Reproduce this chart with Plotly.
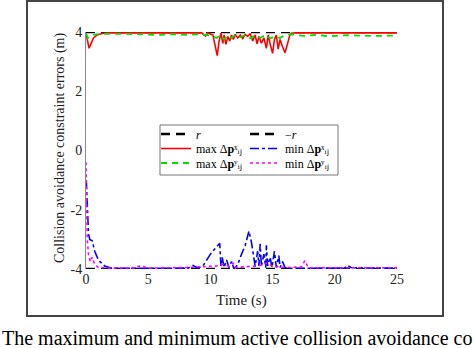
import plotly.graph_objects as go

# ---------------- data ----------------
t_ref = [0, 25]
r_pos = [4, 4]
r_neg = [-4, -4]

t_max_x = [0, 0.1, 0.25, 0.4, 0.6, 0.9, 1.3, 1.8, 3.0, 5.0, 7.0, 8.5, 9.3, 9.6, 9.8, 10.2, 10.4, 10.55, 10.7,
           10.85, 11.0, 11.1, 11.25, 11.4, 11.55, 11.7, 11.85, 12.0, 12.2, 12.4, 12.6, 12.8, 13.0, 13.2,
           13.4, 13.6, 13.75, 13.9, 14.1, 14.3, 14.5, 14.65, 14.8, 15.0, 15.15, 15.3, 15.45, 15.6, 15.8,
           16.0, 16.2, 16.35, 16.5, 17.0, 19.0, 21.0, 23.0, 25.0]
v_max_x = [3.95, 3.7, 3.45, 3.6, 3.8, 3.9, 3.95, 3.98, 3.98, 3.97, 3.98, 3.96, 3.97, 3.86, 3.97, 3.9, 3.5, 3.2, 3.7,
           3.96, 3.62, 3.9, 3.58, 3.85, 3.7, 3.9, 3.75, 3.92, 3.8, 3.9, 3.78, 3.92, 3.85, 3.95,
           3.7, 3.9, 3.6, 3.85, 3.62, 3.8, 3.45, 3.9, 3.6, 3.28, 3.75, 3.9, 3.42, 3.75, 3.5,
           3.3, 3.6, 3.85, 3.96, 3.98, 3.97, 3.98, 3.97, 3.97]

t_max_y = [0, 0.15, 0.3, 0.6, 1.0, 2.0, 4.0, 6.0, 7.0, 8.0, 9.0, 10.0, 10.5, 10.8, 11.1, 11.4, 11.7, 12.0,
           12.4, 12.8, 13.2, 13.6, 14.0, 14.4, 14.8, 15.2, 15.6, 16.0, 16.5, 17.5, 18.5, 19.5, 21.0, 23.0, 25.0]
v_max_y = [3.95, 3.8, 3.85, 3.9, 3.93, 3.94, 3.93, 3.9, 3.93, 3.9, 3.92, 3.88, 3.8, 3.9, 3.75, 3.88, 3.8, 3.9,
           3.82, 3.9, 3.78, 3.88, 3.8, 3.9, 3.78, 3.85, 3.8, 3.9, 3.92, 3.87, 3.9, 3.86, 3.89, 3.87, 3.88]

t_min_x = [0.02, 0.1, 0.2, 0.3, 0.5, 0.7, 1.0, 1.5, 2.0, 4.0, 6.0, 8.2, 8.6, 9.0, 9.4, 9.6, 10.0, 10.4, 10.75,
           10.85, 10.95, 11.1, 11.3, 11.5, 11.7, 11.9, 12.2, 12.5, 12.8, 13.1, 13.3, 13.6, 13.8, 13.9, 14.0,
           14.1, 14.3, 14.45, 14.5, 14.6, 14.8, 14.95, 15.15, 15.3, 15.5, 15.6, 15.8, 16.0, 16.5, 19.0, 20.8,
           21.0, 21.3, 23.0, 25.0]
v_min_x = [-1.0, -1.9, -2.8, -3.0, -3.05, -3.4, -3.7, -3.9, -3.97, -3.98, -3.97, -3.97, -3.88, -3.97, -3.9, -3.75,
           -3.5, -3.3, -3.13, -3.9, -3.6, -3.95, -3.7, -3.95, -3.75, -4.0, -3.85, -3.5, -3.2, -2.72, -3.1,
           -3.9, -3.4, -3.9, -3.15, -3.9, -3.5, -3.95, -3.2, -3.9, -3.6, -3.95, -3.4, -3.95, -3.55, -3.95,
           -3.75, -3.95, -3.98, -3.97, -3.97, -3.88, -3.95, -3.97, -3.97]

t_min_y = [0, 0.05, 0.1, 0.2, 0.35, 0.5, 0.7, 1.0, 2.0, 4.0, 4.3, 4.6, 5.0, 8.0, 9.5, 10.5, 11.0, 11.5, 11.8,
           12.0, 13.0, 13.8, 14.5, 15.0, 16.0, 17.3, 17.6, 17.8, 18.0, 21.0, 25.0]
v_min_y = [-0.4, -1.5, -3.0, -3.5, -3.75, -3.6, -3.85, -3.95, -3.97, -3.96, -3.9, -3.92, -3.97, -3.95, -3.93, -3.9,
           -3.85, -3.9, -3.8, -3.95, -3.92, -3.9, -3.8, -3.9, -3.95, -3.93, -3.72, -3.9, -3.96, -3.95, -3.96]

x_ticks = [0, 5, 10, 15, 20, 25]
y_ticks = [-4, -2, 0, 2, 4]
y_ticktext = ["-4", "-2", "0", "2", "4"]

# ---------------- layout geometry ----------------
W_FIG, H_FIG = 474, 348
L, R, T, B = 86, 77, 32, 79
PW = W_FIG - L - R
PH = H_FIG - T - B


def px(xp):
    return (xp - L) / PW


def py(yp):
    return (H_FIG - B - yp) / PH


FONT = "'Liberation Serif', 'Times New Roman', Times, serif"

fig = go.Figure()
fig.add_trace(go.Scatter(x=t_ref, y=r_pos, mode="lines", name="<i>r</i>", legend="legend",
                         line=dict(color="black", width=2.5, dash="9px,6px")))
fig.add_trace(go.Scatter(x=t_ref, y=r_neg, mode="lines", name="\u2212<i>r</i>", legend="legend2",
                         line=dict(color="black", width=2.5, dash="9px,6px")))
fig.add_trace(go.Scatter(x=t_max_x, y=v_max_x, mode="lines", legend="legend3",
                         name="max \u0394<b>p</b>\u02e3\u1d62\u2c7c",
                         line=dict(color="#ff0000", width=1.6)))
fig.add_trace(go.Scatter(x=t_min_x, y=v_min_x, mode="lines", legend="legend4",
                         name="min \u0394<b>p</b>\u02e3\u1d62\u2c7c",
                         line=dict(color="#0000ff", width=1.6, dash="dashdot")))
fig.add_trace(go.Scatter(x=t_max_y, y=v_max_y, mode="lines", legend="legend5",
                         name="max \u0394<b>p</b>\u02b8\u1d62\u2c7c",
                         line=dict(color="#00e000", width=1.8, dash="6px,5px")))
fig.add_trace(go.Scatter(x=t_min_y, y=v_min_y, mode="lines", legend="legend6",
                         name="min \u0394<b>p</b>\u02b8\u1d62\u2c7c",
                         line=dict(color="#ff00ff", width=1.6, dash="dot")))

legend_common = dict(font=dict(family=FONT, size=12, color="black"), bgcolor="rgba(0,0,0,0)",
                     borderwidth=0, xanchor="left", yanchor="middle", itemwidth=30,
                     tracegroupgap=0)

col_x = [156, 245]
row_y = [134, 148.5, 163]

fig.update_layout(
    width=W_FIG, height=H_FIG,
    margin=dict(l=L, r=R, t=T, b=B),
    paper_bgcolor="white", plot_bgcolor="white",
    font=dict(family=FONT, size=14, color="#222"),
    showlegend=True,
    legend=dict(x=px(col_x[0]), y=py(row_y[0]), **legend_common),
    legend2=dict(x=px(col_x[1]), y=py(row_y[0]), **legend_common),
    legend3=dict(x=px(col_x[0]), y=py(row_y[1]), **legend_common),
    legend4=dict(x=px(col_x[1]), y=py(row_y[1]), **legend_common),
    legend5=dict(x=px(col_x[0]), y=py(row_y[2]), **legend_common),
    legend6=dict(x=px(col_x[1]), y=py(row_y[2]), **legend_common),
    xaxis=dict(range=[0, 25], tickvals=x_ticks, showgrid=False, zeroline=False, showline=False,
               ticks="", tickfont=dict(family=FONT, size=14, color="#222")),
    yaxis=dict(range=[-4, 4], tickvals=y_ticks, ticktext=y_ticktext, showgrid=False, zeroline=False,
               showline=True, linecolor="#888", linewidth=1, ticks="",
               tickfont=dict(family=FONT, size=14, color="#222")),
    shapes=[
        dict(type="rect", xref="paper", yref="paper", x0=px(160), x1=px(338), y0=py(175), y1=py(125),
             line=dict(color="#777", width=1), fillcolor="rgba(0,0,0,0)", layer="below"),
        dict(type="rect", xref="paper", yref="paper", x0=px(27), x1=px(443), y0=py(316), y1=py(1),
             line=dict(color="#444", width=2), fillcolor="rgba(0,0,0,0)", layer="below"),
    ],
    annotations=[
        dict(text="Time (s)", xref="paper", yref="paper", x=px(241), y=py(300), showarrow=False,
             xanchor="center", yanchor="middle", font=dict(family=FONT, size=15, color="#222")),
        dict(text="Collision avoidance constraint errors (m)", xref="paper", yref="paper",
             x=px(60), y=py(148), showarrow=False, textangle=-90, xanchor="center", yanchor="middle",
             font=dict(family=FONT, size=14, color="#222")),
        dict(text="The maximum and minimum active collision avoidance co",
             xref="paper", yref="paper", x=px(0), y=py(338), showarrow=False, xanchor="left",
             yanchor="middle", font=dict(family=FONT, size=20, color="black")),
    ],
)

fig.write_html("out.html")
